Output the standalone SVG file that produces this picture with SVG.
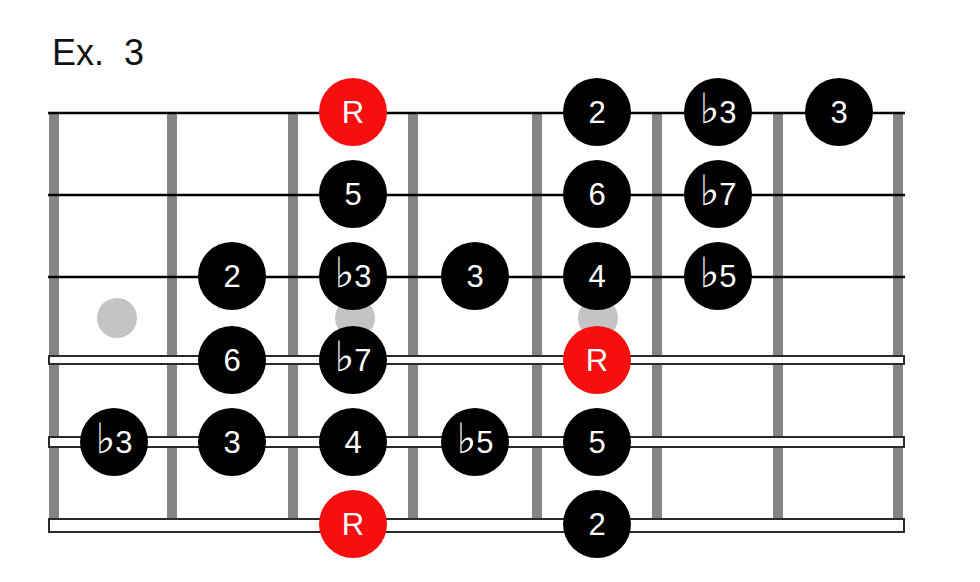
<svg xmlns="http://www.w3.org/2000/svg" width="980" height="582" viewBox="0 0 980 582">
<style>
.fret{fill:#858585}
.thin{stroke:#000;stroke-width:2.5}
.wound{fill:#fff;stroke:#2a2a2a;stroke-width:2}
.inlay{fill:#c4c4c4}
.n circle{fill:#000}
.r circle{fill:#f50f0f}
.n text,.r text{fill:#fff;font-family:"Liberation Sans","DejaVu Sans",sans-serif;font-size:31px;text-anchor:middle}
.fl{font-family:"DejaVu Sans",sans-serif;font-size:42px}
.title{font-family:"Liberation Sans",Arial,sans-serif;font-size:36px;fill:#111}
</style>
<rect width="980" height="582" fill="#fff"/>
<text class="title" x="52" y="65" word-spacing="10">Ex. 3</text>
<g id="fretboard">
<rect class="fret" x="49" y="113" width="10" height="406"/>
<rect class="fret" x="167" y="113" width="10" height="406"/>
<rect class="fret" x="288" y="113" width="10" height="406"/>
<rect class="fret" x="408" y="113" width="10" height="406"/>
<rect class="fret" x="532" y="113" width="10" height="406"/>
<rect class="fret" x="652" y="113" width="10" height="406"/>
<rect class="fret" x="773" y="113" width="10" height="406"/>
<rect class="fret" x="893" y="113" width="10" height="406"/>
<circle class="inlay" cx="117" cy="318" r="20"/>
<circle class="inlay" cx="355" cy="318" r="20"/>
<circle class="inlay" cx="598" cy="318" r="20"/>
<line class="thin" x1="48" y1="113" x2="905" y2="113"/>
<line class="thin" x1="48" y1="195" x2="905" y2="195"/>
<line class="thin" x1="48" y1="277" x2="905" y2="277"/>
<rect class="wound" x="49" y="356" width="855" height="8"/>
<rect class="wound" x="49" y="437" width="855" height="10"/>
<rect class="wound" x="49" y="519" width="855" height="13"/>
</g>
<g id="connectors"></g>
<g id="s1c2" class="r"><circle cx="353" cy="112" r="34"/><text x="353" y="123">R</text></g>
<g id="s1c4" class="n"><circle cx="597" cy="112" r="34"/><text x="597" y="123">2</text></g>
<g id="s1c5" class="n"><circle cx="718" cy="112" r="34"/><text x="718" y="123"><tspan class="fl">♭</tspan>3</text></g>
<g id="s1c6" class="n"><circle cx="839" cy="112" r="34"/><text x="839" y="123">3</text></g>
<g id="s2c2" class="n"><circle cx="353" cy="194" r="34"/><text x="353" y="205">5</text></g>
<g id="s2c4" class="n"><circle cx="597" cy="194" r="34"/><text x="597" y="205">6</text></g>
<g id="s2c5" class="n"><circle cx="718" cy="194" r="34"/><text x="718" y="205"><tspan class="fl">♭</tspan>7</text></g>
<g id="s3c1" class="n"><circle cx="232" cy="276" r="34"/><text x="232" y="287">2</text></g>
<g id="s3c2" class="n"><circle cx="353" cy="276" r="34"/><text x="353" y="287"><tspan class="fl">♭</tspan>3</text></g>
<g id="s3c3" class="n"><circle cx="475" cy="276" r="34"/><text x="475" y="287">3</text></g>
<g id="s3c4" class="n"><circle cx="597" cy="276" r="34"/><text x="597" y="287">4</text></g>
<g id="s3c5" class="n"><circle cx="718" cy="276" r="34"/><text x="718" y="287"><tspan class="fl">♭</tspan>5</text></g>
<g id="s4c1" class="n"><circle cx="232" cy="360" r="34"/><text x="232" y="371">6</text></g>
<g id="s4c2" class="n"><circle cx="353" cy="360" r="34"/><text x="353" y="371"><tspan class="fl">♭</tspan>7</text></g>
<g id="s4c4" class="r"><circle cx="597" cy="360" r="34"/><text x="597" y="371">R</text></g>
<g id="s5c0" class="n"><circle cx="114" cy="442" r="34"/><text x="114" y="453"><tspan class="fl">♭</tspan>3</text></g>
<g id="s5c1" class="n"><circle cx="232" cy="442" r="34"/><text x="232" y="453">3</text></g>
<g id="s5c2" class="n"><circle cx="353" cy="442" r="34"/><text x="353" y="453">4</text></g>
<g id="s5c3" class="n"><circle cx="475" cy="442" r="34"/><text x="475" y="453"><tspan class="fl">♭</tspan>5</text></g>
<g id="s5c4" class="n"><circle cx="597" cy="442" r="34"/><text x="597" y="453">5</text></g>
<g id="s6c2" class="r"><circle cx="353" cy="524" r="34"/><text x="353" y="535">R</text></g>
<g id="s6c4" class="n"><circle cx="597" cy="524" r="34"/><text x="597" y="535">2</text></g>
</svg>
